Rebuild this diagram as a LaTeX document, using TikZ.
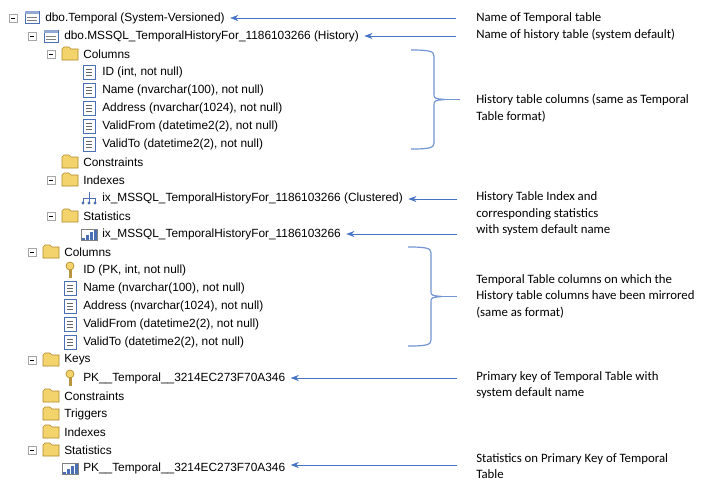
\documentclass[tikz,border=0pt]{standalone}
\usepackage{fontspec}
\setmainfont{Liberation Sans}
\newfontfamily\notefont{Carlito}
\usetikzlibrary{arrows.meta}
\definecolor{noteblue}{HTML}{4472C4}
\definecolor{folderfill}{HTML}{F3D36B}
\definecolor{folderline}{HTML}{B08A2A}
\definecolor{colblue}{HTML}{4A6FB5}

\tikzset{
	item/.style={anchor=west, inner sep=0pt, font=\fontsize{8.9}{10}\selectfont},
	note/.style={anchor=west, inner sep=0pt, align=left, font=\notefont\fontsize{9.6}{12.4}\selectfont},
	pointer/.style={draw=noteblue, -{Stealth[length=6pt,width=4.5pt]}, shorten >=4pt},
	bracket/.style={draw=noteblue!75, line width=0.9pt},
	expbox/.style={draw=gray!70, fill=white, line width=0.4pt}
}

% tree furniture
\newcommand{\expander}[2]{%
	\draw[expbox] (#1-4,#2-4) rectangle (#1+4,#2+4);
	\draw[black, line width=0.4pt] (#1-2,#2) -- (#1+2,#2);}
\newcommand{\foldericon}[2]{%
	\draw[folderline, fill=folderfill, line width=0.4pt] (#1-8,#2+6) -- (#1-8,#2-5) -- (#1-6,#2-7) -- (#1-1,#2-7) -- (#1+1,#2-5) -- (#1+8,#2-5) -- (#1+8,#2+6) -- cycle;}
\newcommand{\columnicon}[2]{%
	\draw[colblue, fill=white, line width=0.6pt] (#1-6,#2-7) rectangle (#1+6,#2+7);
	\foreach \k in {-3,0,3} \draw[gray!80!black, line width=0.6pt] (#1-3,#2+\k) -- (#1+3,#2+\k);}
\newcommand{\tableicon}[2]{%
	\draw[colblue, fill=white, line width=0.6pt] (#1-7,#2-6) rectangle (#1+7,#2+6);
	\fill[colblue!60] (#1-7,#2-6) rectangle (#1+7,#2-3);
	\foreach \k in {0,3} \draw[gray, line width=0.4pt] (#1-5,#2+\k) -- (#1+5,#2+\k);}
\newcommand{\keyicon}[2]{%
	\fill[folderline!90] (#1-1.5,#2-2) rectangle (#1+1.5,#2+8);
	\draw[folderline, fill=folderfill, line width=0.5pt] (#1,#2-4) circle (4);}
\newcommand{\indexicon}[2]{%
	\draw[colblue, line width=0.6pt] (#1,#2-6) -- (#1,#2) (#1-6,#2+5) -- (#1-6,#2) -- (#1+6,#2) -- (#1+6,#2+5) (#1,#2) -- (#1,#2+5);
	\foreach \k in {-6,0,6} \fill[colblue] (#1+\k,#2+5) circle (1.6);}
\newcommand{\statsicon}[2]{%
	\draw[gray, fill=white, line width=0.4pt] (#1-8,#2-5) rectangle (#1+8,#2+6);
	\foreach \k/\h in {-6/2,-2/5,2/8,6/10} \fill[colblue] (#1+\k-1.5,#2+6) rectangle (#1+\k+1.5,#2+6-\h);}
% bracket: left end x, top y, bottom y
\newcommand{\curly}[3]{%
	\draw[bracket] (#1,#2) .. controls (#1+18,#2) and (#1+23,#2+1) .. (#1+23,#2+6)
		-- (#1+23,{(#2+#3)/2-6}) .. controls (#1+23,{(#2+#3)/2-1}) .. (#1+34,{(#2+#3)/2})
		.. controls (#1+23,{(#2+#3)/2+1}) .. (#1+23,{(#2+#3)/2+6})
		-- (#1+23,#3-6) .. controls (#1+23,#3-1) and (#1+18,#3) .. (#1,#3);
	\draw[bracket, line width=0.6pt] (#1+34,{(#2+#3)/2}) -- (#1+49,{(#2+#3)/2});}

\begin{document}
\begin{tikzpicture}[x=0.75pt, y=-0.75pt]
\useasboundingbox[fill=white] (0,0) rectangle (713,490);

% history table
\expander{13}{18} \tableicon{32}{17}
\node[item] (tmp) at (45,18) {dbo.Temporal (System-Versioned)};
\expander{32}{36} \tableicon{51}{36}
\node[item] (hist) at (64,36) {dbo.MSSQL\_TemporalHistoryFor\_1186103266 (History)};
\expander{51}{54} \foldericon{70}{54}
\node[item] (hcols) at (83,54) {Columns};
\columnicon{89}{72}  \node[item] (hc1) at (102,72)  {ID (int, not null)};
\columnicon{89}{90}  \node[item] (hc2) at (102,90)  {Name (nvarchar(100), not null)};
\columnicon{89}{108} \node[item] (hc3) at (102,108) {Address (nvarchar(1024), not null)};
\columnicon{89}{126} \node[item] (hc4) at (102,126) {ValidFrom (datetime2(2), not null)};
\columnicon{89}{144} \node[item] (hc5) at (102,144) {ValidTo (datetime2(2), not null)};
\foldericon{70}{162} \node[item] (hcons) at (83,162) {Constraints};
\expander{51}{180} \foldericon{70}{180}
\node[item] (hidx) at (83,180) {Indexes};
\indexicon{89}{198}
\node[item] (hix) at (102,198) {ix\_MSSQL\_TemporalHistoryFor\_1186103266 (Clustered)};
\expander{51}{216} \foldericon{70}{216}
\node[item] (hstat) at (83,216) {Statistics};
\statsicon{89}{234}
\node[item] (hst) at (102,234) {ix\_MSSQL\_TemporalHistoryFor\_1186103266};

% temporal table
\expander{32}{252} \foldericon{51}{252}
\node[item] (tcols) at (64,252) {Columns};
\keyicon{70}{270}    \node[item] (tc1) at (83,270) {ID (PK, int, not null)};
\columnicon{70}{288} \node[item] (tc2) at (83,288) {Name (nvarchar(100), not null)};
\columnicon{70}{306} \node[item] (tc3) at (83,306) {Address (nvarchar(1024), not null)};
\columnicon{70}{324} \node[item] (tc4) at (83,324) {ValidFrom (datetime2(2), not null)};
\columnicon{70}{342} \node[item] (tc5) at (83,342) {ValidTo (datetime2(2), not null)};
\expander{32}{360} \foldericon{51}{360}
\node[item] (tkeys) at (64,360) {Keys};
\keyicon{70}{378}
\node[item] (tpk) at (83,378) {PK\_\_Temporal\_\_3214EC273F70A346};
\foldericon{51}{396} \node[item] (tcons) at (64,396) {Constraints};
\foldericon{51}{414} \node[item] (ttrig) at (64,414) {Triggers};
\foldericon{51}{432} \node[item] (tidx) at (64,432) {Indexes};
\expander{32}{450} \foldericon{51}{450}
\node[item] (tstat) at (64,450) {Statistics};
\statsicon{70}{468}
\node[item] (tst) at (83,468) {PK\_\_Temporal\_\_3214EC273F70A346};

% notes
\node[note] (n1) at (476,18) {Name of Temporal table};
\node[note] (n2) at (476,35) {Name of history table (system default)};
\node[note] (n3) at (476,108) {History table columns (same as Temporal\\Table format)};
\node[note] (n4) at (476,214) {History Table Index and\\corresponding statistics\\with system default name};
\node[note] (n5) at (476,296) {Temporal Table columns on which the\\History table columns have been mirrored\\(same as format)};
\node[note] (n6) at (476,385) {Primary key of Temporal Table with\\system default name};
\node[note] (n7) at (476,466) {Statistics on Primary Key of Temporal\\Table};

\coordinate (p1) at (456,18);
\coordinate (p2) at (456,36);
\coordinate (p4a) at (457,199);
\coordinate (p4b) at (457,234);
\coordinate (p6) at (457,378);
\coordinate (p7) at (457,465);
\draw[pointer] (p1) -- (p1 -| tmp.east);
\draw[pointer] (p2) -- (p2 -| hist.east);
\draw[pointer] (p4a) -- (p4a -| hix.east);
\draw[pointer] (p4b) -- (p4b -| hst.east);
\draw[pointer] (p6) -- (p6 -| tpk.east);
\draw[pointer] (p7) -- (p7 -| tst.east);

% braces
\curly{411}{50}{149}
\curly{408}{247}{346}
\end{tikzpicture}
\end{document}
